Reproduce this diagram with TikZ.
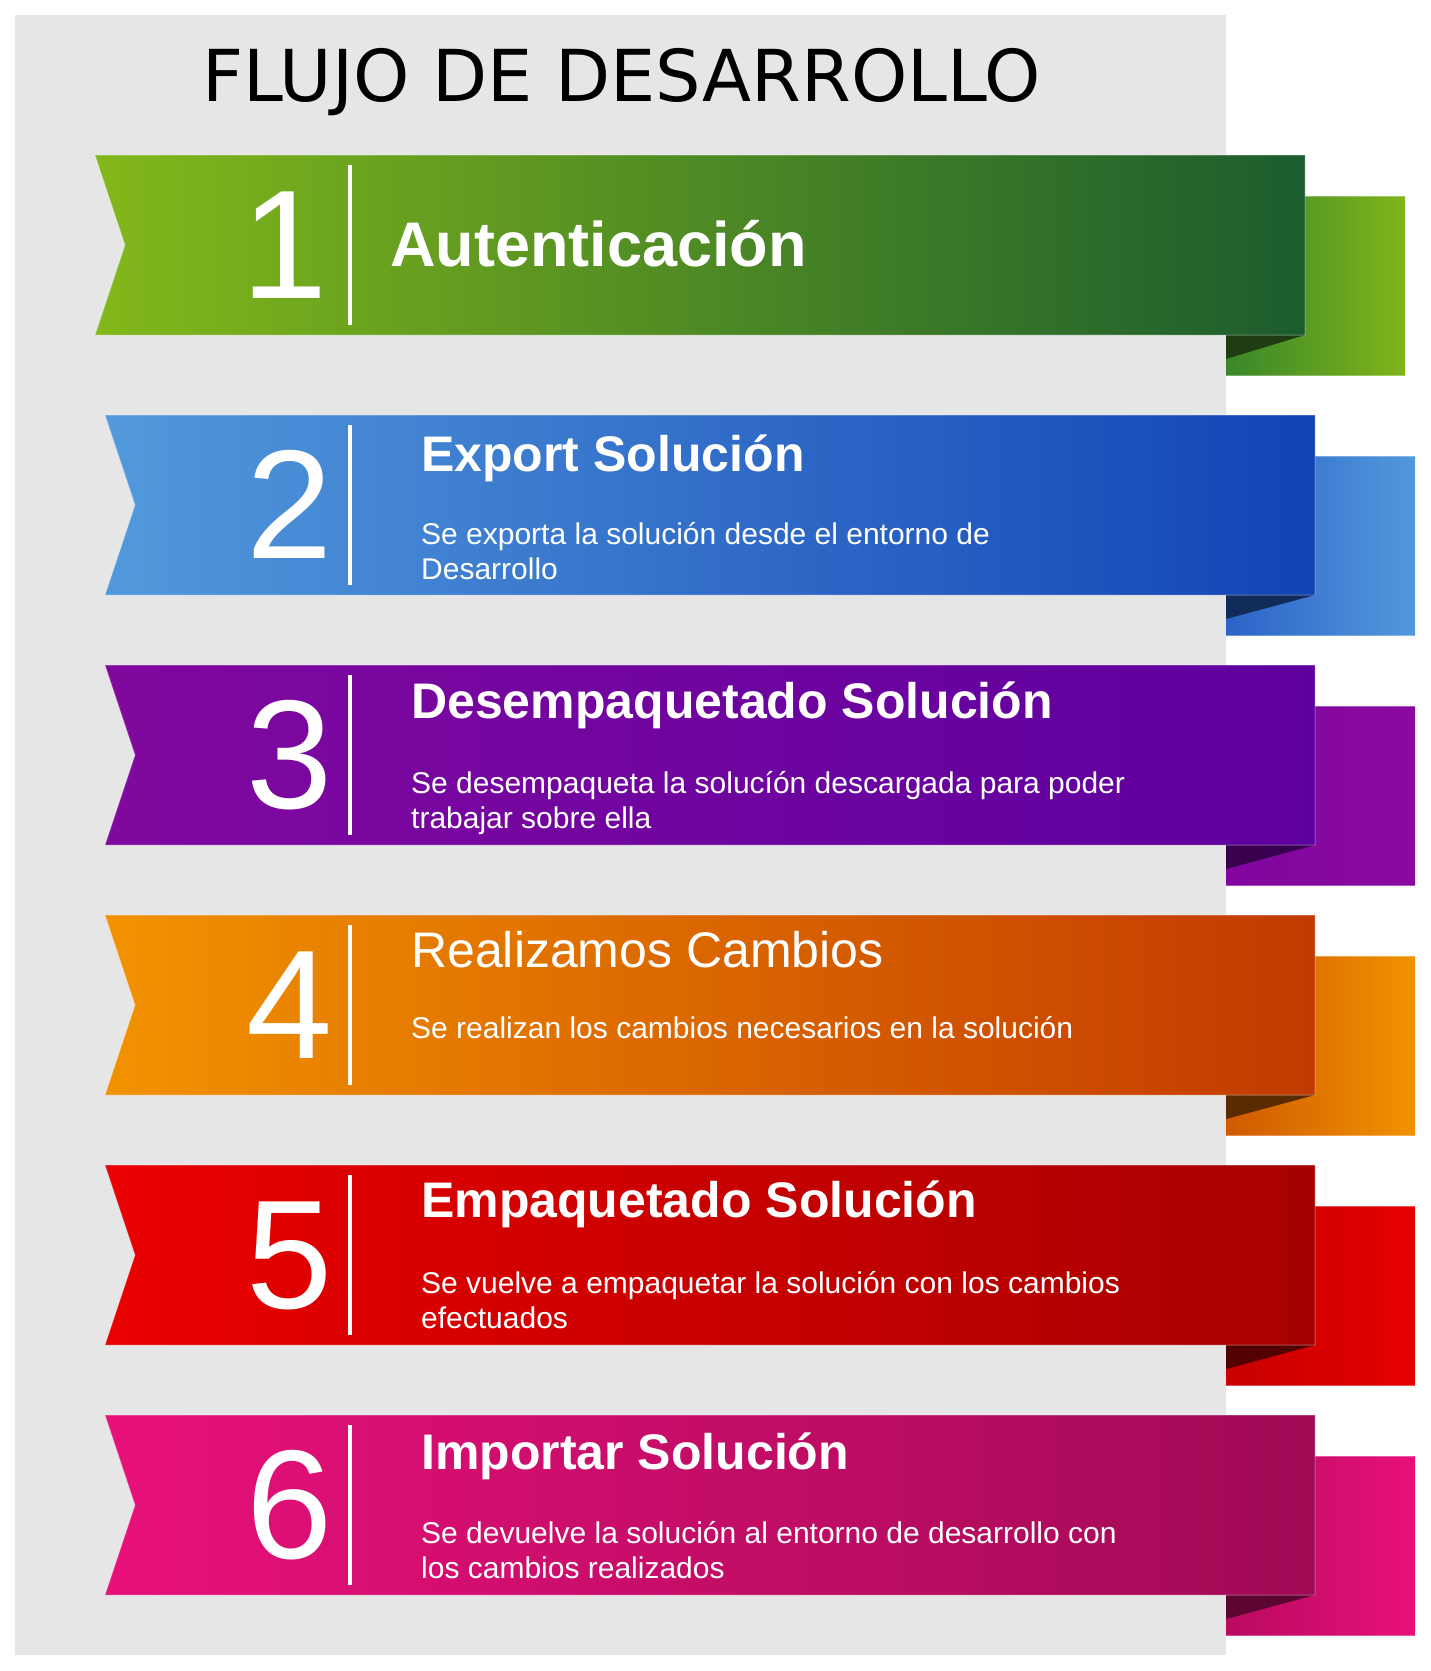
\documentclass[tikz,border=0pt]{standalone}
\usepackage{fontspec}
\setmainfont{Liberation Sans}
\newfontfamily\titlefont{DejaVu Sans}
\definecolor{bggray}{HTML}{E6E6E6}
% ribbon 1 (green)
\definecolor{gA}{HTML}{82B81A}\definecolor{gB}{HTML}{1B5C2E}\definecolor{gC}{HTML}{3A872A}\definecolor{gD}{HTML}{80B51A}\definecolor{gE}{HTML}{1F3D12}
% ribbon 2 (blue)
\definecolor{bA}{HTML}{5299DC}\definecolor{bB}{HTML}{1243B5}\definecolor{bC}{HTML}{2C63C7}\definecolor{bD}{HTML}{5299DC}\definecolor{bE}{HTML}{112B58}
% ribbon 3 (purple)
\definecolor{pA}{HTML}{80089F}\definecolor{pB}{HTML}{5E009F}\definecolor{pC}{HTML}{80069F}\definecolor{pD}{HTML}{8A0AA0}\definecolor{pE}{HTML}{38004E}
% ribbon 4 (orange)
\definecolor{oA}{HTML}{F29200}\definecolor{oB}{HTML}{C23A00}\definecolor{oC}{HTML}{CF5A00}\definecolor{oD}{HTML}{F29200}\definecolor{oE}{HTML}{5A2A00}
% ribbon 5 (red)
\definecolor{rA}{HTML}{EA0000}\definecolor{rB}{HTML}{A70000}\definecolor{rC}{HTML}{C80000}\definecolor{rD}{HTML}{E60000}\definecolor{rE}{HTML}{520000}
% ribbon 6 (pink)
\definecolor{kA}{HTML}{E8107A}\definecolor{kB}{HTML}{A00A55}\definecolor{kC}{HTML}{BA0A60}\definecolor{kD}{HTML}{E8107A}\definecolor{kE}{HTML}{5C0530}
\tikzset{
  numtext/.style={inner sep=0pt, anchor=base, text=white, font=\fontsize{155}{155}\selectfont},
  headtext/.style={inner sep=0pt, anchor=base west, text=white, font=\fontsize{50}{50}\selectfont\bfseries},
  headreg/.style={inner sep=0pt, anchor=base west, text=white, font=\fontsize{50}{50}\selectfont},
  subtext/.style={inner sep=0pt, anchor=base west, text=white, font=\fontsize{30}{35}\selectfont},
  divider/.style={white, line width=4pt},
}
% #1 top y, #2 left x, #3 right x, #4 tab right x, #5 main left col, #6 main right col, #7 tab left col, #8 tab right col, #9 fold col
\newcommand\ribbonband[9]{%
  \shade[left color=#7, right color=#8] (1226,#1+41) rectangle (#4,#1+220);
  \draw[white, opacity=0.3, line width=1pt] (1226,#1+41) -- (#4,#1+41) -- (#4,#1+220) -- (1226,#1+220);
  \fill[#9] (1226,#1+180) -- (#3,#1+180) -- (1226,#1+204) -- cycle;
  \shade[left color=#5, right color=#6] (#2,#1) -- (#3,#1) -- (#3,#1+180) -- (#2,#1+180) -- (#2+30,#1+90) -- cycle;
  \draw[white, opacity=0.3, line width=1pt] (#2,#1) -- (#3,#1) -- (#3,#1+180) -- (#2,#1+180) -- (#2+30,#1+90) -- cycle;
  \draw[divider] (350,#1+10) -- (350,#1+170);
}
\begin{document}
\begin{tikzpicture}[x=1pt,y=-1pt]
\useasboundingbox (0,0) rectangle (1431,1671);
\fill[white] (0,0) rectangle (1431,1671);
\fill[bggray] (15,15) rectangle (1226,1655);
\node[inner sep=0pt, anchor=base west, font=\titlefont\fontsize{71.6}{72}\selectfont] (title) at (202,101) {FLUJO DE DESARROLLO};

% 1
\ribbonband{155}{95}{1305}{1405}{gA}{gB}{gC}{gD}{gE}
\node[numtext] (n1) at (285,298.5) {1};
\node[headtext, font=\fontsize{63}{63}\selectfont\bfseries] (h1) at (390,266) {Autenticación};

% 2
\ribbonband{415}{105}{1315}{1415}{bA}{bB}{bC}{bD}{bE}
\node[numtext] (n2) at (290,558.5) {2};
\node[headtext] (h2) at (421,471) {Export Solución};
\node[subtext] (s2a) at (421,544) {Se exporta la solución desde el entorno de};
\node[subtext] (s2b) at (421,579) {Desarrollo};

% 3
\ribbonband{665}{105}{1315}{1415}{pA}{pB}{pC}{pD}{pE}
\node[numtext] (n3) at (290,808.5) {3};
\node[headtext] (h3) at (411,718) {Desempaquetado Solución};
\node[subtext] (s3a) at (411,793) {Se desempaqueta la solucíón descargada para poder};
\node[subtext] (s3b) at (411,828) {trabajar sobre ella};

% 4
\ribbonband{915}{105}{1315}{1415}{oA}{oB}{oC}{oD}{oE}
\node[numtext] (n4) at (290,1058.5) {4};
\node[headreg] (h4) at (411,967) {Realizamos Cambios};
\node[subtext] (s4a) at (411,1038) {Se realizan los cambios necesarios en la solución};

% 5
\ribbonband{1165}{105}{1315}{1415}{rA}{rB}{rC}{rD}{rE}
\node[numtext] (n5) at (290,1308.5) {5};
\node[headtext] (h5) at (421,1217) {Empaquetado Solución};
\node[subtext] (s5a) at (421,1293) {Se vuelve a empaquetar la solución con los cambios};
\node[subtext] (s5b) at (421,1328) {efectuados};

% 6
\ribbonband{1415}{105}{1315}{1415}{kA}{kB}{kC}{kD}{kE}
\node[numtext] (n6) at (290,1558.5) {6};
\node[headtext] (h6) at (421,1469) {Importar Solución};
\node[subtext] (s6a) at (421,1543) {Se devuelve la solución al entorno de desarrollo con};
\node[subtext] (s6b) at (421,1578) {los cambios realizados};
\end{tikzpicture}
\end{document}
